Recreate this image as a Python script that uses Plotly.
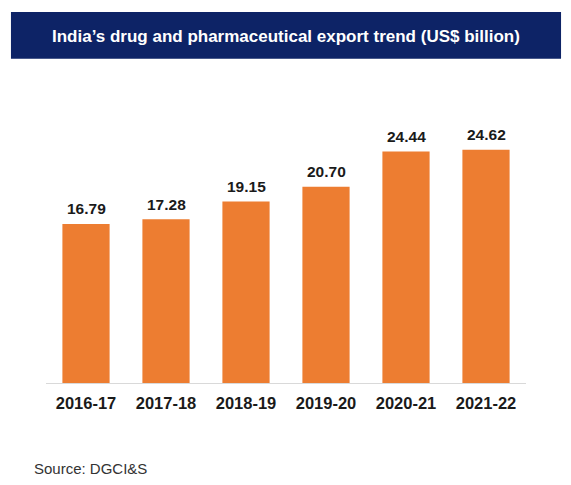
import plotly.graph_objects as go

# Data
years = ['2016-17', '2017-18', '2018-19', '2019-20', '2020-21', '2021-22']
exports = [16.79, 17.28, 19.15, 20.70, 24.44, 24.62]

title_text = "India\u2019s drug and pharmaceutical export trend (US$ billion)"
source_text = "Source: DGCI&S"

fig = go.Figure()
fig.add_trace(go.Bar(
    x=years, y=exports,
    marker=dict(color='#ED7D31', line=dict(width=0)),
    width=0.59,
    hoverinfo='x+y',
))

# value labels above the bars
for yr, v in zip(years, exports):
    fig.add_annotation(x=yr, y=v, text='<b>%.2f</b>' % v, showarrow=False,
                       yanchor='middle', yshift=15,
                       font=dict(family='Arial, Liberation Sans', size=15.5, color='#1a1a1a'))

# navy title band
fig.add_shape(type='rect', xref='paper', yref='paper',
              x0=-0.073, x1=1.073, y0=1.154, y1=1.32,
              fillcolor='#0D2366', line=dict(width=0), layer='below')
fig.add_annotation(xref='paper', yref='paper', x=0.5, y=1.232,
                   xanchor='center', yanchor='middle',
                   text='<b>' + title_text + '</b>', showarrow=False,
                   font=dict(family='Arial, Liberation Sans', size=17, color='white'))
fig.add_annotation(xref='paper', yref='paper', x=-0.03, y=-0.3025,
                   xanchor='left', yanchor='middle', text=source_text, showarrow=False,
                   font=dict(family='Arial, Liberation Sans', size=15, color='#333333'))

fig.update_xaxes(showline=True, linecolor='#d9d9d9', linewidth=1,
                 ticks='', showgrid=False, ticklabelstandoff=5,
                 tickfont=dict(family='Arial, Liberation Sans', size=16.5, color='#1a1a1a'))
fig.update_xaxes(tickvals=years, ticktext=['<b>' + y + '</b>' for y in years])
fig.update_yaxes(visible=False, range=[0, 29.65], showgrid=False)

fig.update_layout(
    width=571, height=485,
    margin=dict(l=38, r=53, t=94, b=110),
    plot_bgcolor='white', paper_bgcolor='white',
    showlegend=False,
)

fig.write_html("out.html")
